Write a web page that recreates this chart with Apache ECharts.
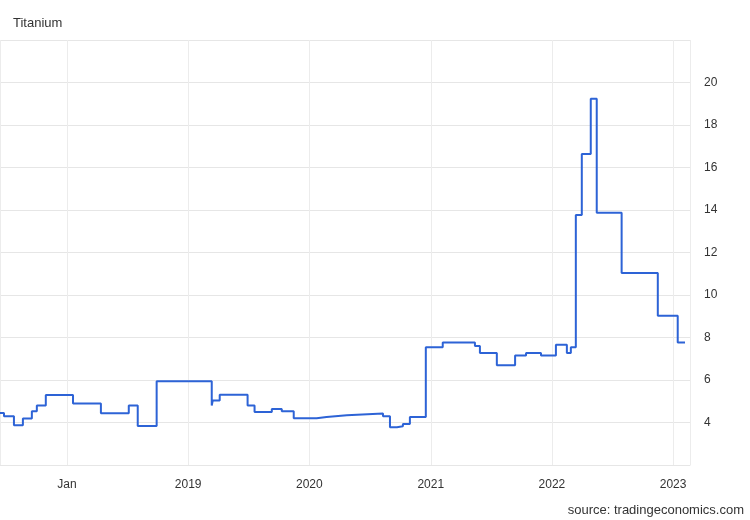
<!DOCTYPE html>
<html>
<head>
<meta charset="utf-8">
<script src="https://cdn.jsdelivr.net/npm/echarts@6/dist/echarts.min.js"></script>
<style>html,body{margin:0;padding:0;background:#fff}#container{width:750px;height:520px}</style>
</head>
<body>
<div id="container"></div>
<script>
var dates = ['2017-06-13','2017-06-25','2017-07-25','2017-08-21','2017-09-17','2017-10-02','2017-10-29',
  '2018-01-19','2018-04-13','2018-07-06','2018-08-02','2018-09-28','2019-03-13','2019-03-16','2019-04-06',
  '2019-06-29','2019-07-20','2019-09-10','2019-10-10','2019-11-15','2020-01-23','2020-02-22','2020-04-23',
  '2020-08-10','2020-08-31','2020-09-21','2020-10-09','2020-10-30','2020-12-17','2021-02-06','2021-05-14',
  '2021-05-29','2021-07-19','2021-09-12','2021-10-15','2021-11-29','2022-01-13','2022-02-15','2022-02-27',
  '2022-03-14','2022-04-01','2022-04-28','2022-05-16','2022-07-30','2022-11-16','2023-01-15','2023-02-06'];
var prices = [4.45,4.3,3.87,4.19,4.53,4.8,5.3,
  4.89,4.44,4.8,3.84,5.94,4.8,5.03,5.31,
  4.8,4.49,4.64,4.53,4.2,4.26,4.34,4.42,
  4.3,3.78,3.82,3.93,4.26,7.54,7.77,7.6,
  7.27,6.69,7.15,7.27,7.15,7.66,7.27,7.54,
  13.77,16.63,19.24,13.87,11.03,9.02,7.77,7.77];

var myChart = echarts.init(document.getElementById('container'));
var data = [];
for (var i = 0; i < dates.length; i++) {
  data.push([dates[i], prices[i]]);
}
var option = {
  animation: false,
  title: {
    left: 8, top: 12,
    text: 'Titanium',
    textStyle: {fontFamily: 'Arial, Liberation Sans', fontSize: 13, fontWeight: 'normal', color: '#333'}
  },
  graphic: [{
    type: 'text', right: 6, bottom: 3,
    style: {text: 'source: tradingeconomics.com', font: '13px Arial, Liberation Sans', fill: '#333'}
  }],
  grid: {left: 0, right: 60, top: 40, bottom: 55},
  xAxis: {
    type: 'time',
    min: '2017-06-13', max: '2023-02-21',
    splitNumber: 6,
    axisLine: {show: true, lineStyle: {color: '#e6e6e6'}},
    axisTick: {show: false},
    splitLine: {show: true, lineStyle: {color: '#ececec'}},
    axisLabel: {
      color: '#333', fontSize: 12, fontFamily: 'Arial, Liberation Sans', margin: 14,
      formatter: function (v) {
        var d = new Date(v);
        if (d.getMonth() !== 0) return '';
        return d.getFullYear() === 2018 ? 'Jan' : String(d.getFullYear());
      }
    }
  },
  yAxis: {
    type: 'value', position: 'right',
    min: 2, max: 22, interval: 2,
    axisLine: {show: false}, axisTick: {show: false},
    splitLine: {lineStyle: {color: '#e6e6e6'}},
    axisLabel: {
      color: '#333', fontSize: 12, fontFamily: 'Arial, Liberation Sans', margin: 14,
      formatter: function (v) { return (v === 2 || v === 22) ? '' : v; }
    }
  },
  series: [{
    name: 'Titanium', type: 'line', step: 'end',
    data: data, showSymbol: false,
    lineStyle: {color: '#2d63d6', width: 2}
  }]
};
myChart.setOption(option);
</script>
</body>
</html>
